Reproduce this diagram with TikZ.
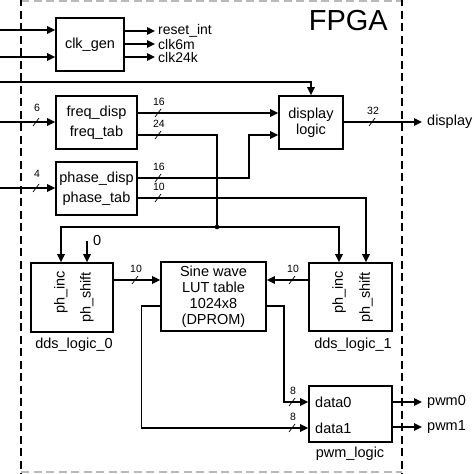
\documentclass[tikz,border=0pt]{standalone}
\usepackage{fontspec}
\setmainfont{Liberation Sans}
\usetikzlibrary{arrows.meta}
\tikzstyle{block} = [rectangle, draw, line width=1.7pt, fill=white, inner sep=0pt,
                 align=center, font=\fontsize{14.5}{20}\selectfont]
\tikzstyle{lbl} = [inner sep=0pt, font=\fontsize{14.5}{18}\selectfont]
\tikzstyle{busnum} = [inner sep=0pt, font=\fontsize{10.5}{11}\selectfont]
\tikzstyle{branch} = [line width=1.3pt, draw]
\tikzstyle{sig} = [branch, -{Triangle[length=8pt,width=7.5pt]}]
\tikzstyle{border} = [line width=1.8pt, dash pattern=on 8pt off 4.5pt]

\begin{document}
\begin{tikzpicture}[x=1pt, y=-1pt]
\useasboundingbox (0,0) rectangle (474,474);

% FPGA border
\draw [border, gray!55] (21,1) -- (402,1);
\draw [border, gray!55] (21,472) -- (402,472);
\draw [border] (21,-2) -- (21,476);
\draw [border] (402,-2) -- (402,476);
\node [lbl, font=\fontsize{29}{29}\selectfont, anchor=east] at (388,21) (fpga) {FPGA};

% blocks
\node [block, minimum width=68pt, minimum height=53pt] at (90,44.5) (clk) {clk\_gen};
\node [block, minimum width=81pt, minimum height=53pt] at (96.5,122.5) (freq) {freq\_disp\\freq\_tab};
\node [block, minimum width=81pt, minimum height=53pt] at (96.5,188.5) (phase) {phase\_disp\\phase\_tab};
\node [block, minimum width=64pt, minimum height=53pt, font=\fontsize{14.5}{16}\selectfont] at (311,122.5) (disp) {display\\logic};
\node [block, minimum width=82pt, minimum height=69pt] at (72,297.5) (dds0) {};
\node [block, minimum width=83pt, minimum height=68pt] at (350.5,297) (dds1) {};
\node [block, minimum width=105pt, minimum height=69pt, font=\fontsize{14.5}{16}\selectfont] at (213.5,296.5) (lut) {Sine wave\\LUT table\\1024x8\\(DPROM)};
\node [block, minimum width=83pt, minimum height=56pt] at (350.5,414) (pwm) {};

% block texts
\node [lbl, rotate=90] at (61,292.5) (incA) {ph\_inc};
\node [lbl, rotate=90] at (87,297.5) (shA) {ph\_shift};
\node [lbl, rotate=90] at (339,292.5) (incB) {ph\_inc};
\node [lbl, rotate=90] at (366,297.5) (shB) {ph\_shift};
\node [lbl, anchor=west] at (315,402) (d0) {data0};
\node [lbl, anchor=west] at (315,428) (d1) {data1};
\node [lbl] at (74,345) (ddsA lbl) {dds\_logic\_0};
\node [lbl] at (353,345) (ddsB lbl) {dds\_logic\_1};
\node [lbl] at (350,454) (pwm lbl) {pwm\_logic};

% clock
\coordinate (in1) at (0,30);
\coordinate (in2) at (0,57);
\draw [sig] (in1) -- (in1 -| clk.west);
\draw [sig] (in2) -- (in2 -| clk.west);
\foreach \y/\name/\lab in {31/o1/reset\_int, 44/o2/clk6m, 57/o3/clk24k} {
	\node [lbl, font=\fontsize{14}{16}\selectfont, anchor=west, inner xsep=3pt] at (155,\y) (\name) {\lab};
	\draw [sig] (clk.east |- \name) -- (\name.west);
}

% display
\coordinate (rst) at (0,82);
\draw [sig] (rst) -| (disp.north);
\coordinate (fin) at (0,122);
\coordinate (pin) at (0,188);
\draw [sig] (fin) -- (fin -| freq.west);
\draw [sig] (pin) -- (pin -| phase.west);

\coordinate (fd) at ([yshift=9.5pt]freq.east);
\coordinate (ft) at ([yshift=-12.5pt]freq.east);
\coordinate (pd) at ([yshift=10.5pt]phase.east);
\coordinate (pt) at ([yshift=-9.5pt]phase.east);
\draw [sig] (fd) -- (fd -| disp.west);
\draw [sig] (pd) -- ++(111,0) |- (ft -| disp.west);
\node [lbl, anchor=west, inner xsep=5pt] at (422,122) (dout) {display};
\draw [sig] (disp.east |- dout) -- (dout.west);

% dds
\coordinate (jn) at (217,227);
\draw [branch] (ft) -| (jn);
\fill (jn) circle (2.3pt);
\draw [sig] (jn) -| (incA |- dds0.north);
\draw [sig] (jn) -| (incB |- dds1.north);
\draw [sig] (pt) -| (shB |- dds1.north);
\node [lbl, anchor=west] at (93,241) (zero) {0};
\draw [sig] (shA |- zero) -- (shA |- dds0.north);

% lut and pwm
\coordinate (l0) at ([yshift=17.5pt]dds0.east);
\coordinate (l1) at ([yshift=17pt]dds1.west);
\draw [sig] (l0) -- (l0 -| lut.west);
\draw [sig] (l1) -- (l1 -| lut.east);
\coordinate (qa) at ([yshift=-9.5pt]lut.west);
\coordinate (qb) at ([yshift=-9.5pt]lut.east);
\draw [sig] (qa) -- ++(-19,0) |- (d1 -| pwm.west);
\draw [sig] (qb) -- ++(17,0) |- (d0 -| pwm.west);
\foreach \y/\name/\lab in {402/p0/pwm0, 427/p1/pwm1} {
	\node [lbl, anchor=west, inner xsep=5pt] at (422,\y) (\name) {\lab};
	\draw [sig] (pwm.east |- \name) -- (\name.west);
}

	%bus widths
\foreach \x/\y/\w/\d in {36/122/6/14, 36/188/4/14, 158/113/16/11, 158/135/24/11,
		158/178/16/11, 158/198/10/11, 372/122/32/11, 135/280/10/11,
		292/280/10/11, 292/402/8/11, 292/428/8/11} {
	\draw [line width=0.7pt] (\x-3,\y+4) -- (\x+3,\y-4);
	\node [busnum] at (\x+1,\y-\d) (bw\x-\y) {\w};
}

\end{tikzpicture}
\end{document}
